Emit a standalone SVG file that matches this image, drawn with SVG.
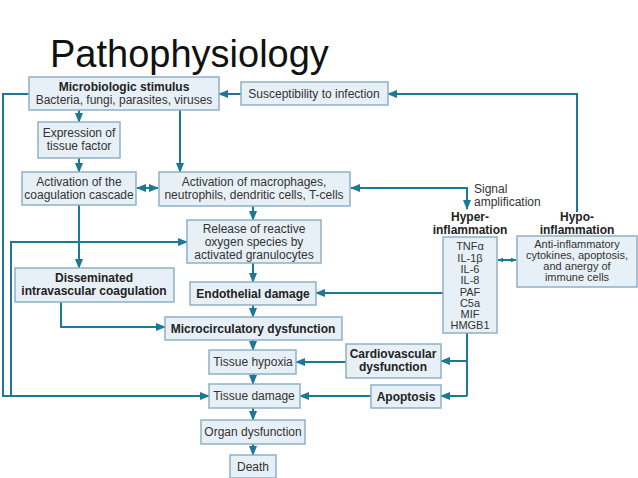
<svg xmlns="http://www.w3.org/2000/svg" width="638" height="478" viewBox="0 0 638 478">
<defs>
<marker id="a" viewBox="0 0 10 10" refX="9" refY="5" markerWidth="5" markerHeight="5" orient="auto-start-reverse"><path d="M0,1 L10,5 L0,9 z" fill="#1b7896"/></marker>
<marker id="s" viewBox="0 0 10 10" refX="9" refY="5" markerWidth="3" markerHeight="3" orient="auto-start-reverse"><path d="M0,1 L10,5 L0,9 z" fill="#1b7896"/></marker>
</defs>
<style>
.b{fill:#e7f0f6;stroke:#8fb1c6;stroke-width:1.5}
text{font-family:"Liberation Sans",Arial,sans-serif;font-size:12px;fill:#333;text-anchor:middle}
.bd{font-weight:bold;fill:#222}
.sm{font-size:11px}
.c{fill:none;stroke:#1b7896;stroke-width:2}
.c1{marker-end:url(#a)}
.c2{marker-start:url(#a);marker-end:url(#a)}
.c3{marker-start:url(#s);marker-end:url(#s)}
</style>
<rect width="638" height="478" fill="#fff"/>
<text x="50" y="67" style="font-size:38px;text-anchor:start;fill:#111">Pathophysiology</text>
<g id="connectors">
<path class="c c1" d="M29,94 H3 V396 H209"/>
<path class="c c1" d="M11,396 V242 H187"/>
<path class="c c1" d="M241,94 H219"/>
<path class="c c1" d="M577,212 V94 H388"/>
<path class="c c1" d="M79,110 V122"/>
<path class="c c1" d="M79,158 V172"/>
<path class="c c1" d="M180,110 V172"/>
<path class="c c2" d="M137,188 H158"/>
<path class="c c1" d="M79,205 V268"/>
<path class="c c1" d="M253,206 V220"/>
<path class="c c1" d="M253,263 V282"/>
<path class="c c1" d="M253,305 V317"/>
<path class="c c1" d="M253,340 V350"/>
<path class="c c1" d="M253,374 V384"/>
<path class="c c1" d="M253,408 V420"/>
<path class="c c1" d="M253,444 V455"/>
<path class="c c1" d="M61,302 V327 H165"/>
<path class="c c2" d="M351,188 H467 V209"/>
<path class="c c3" d="M498,260 H516"/>
<path class="c c1" d="M443,293 H316"/>
<path class="c" d="M467,333 V396"/>
<path class="c c1" d="M467,361 H441"/>
<path class="c c1" d="M467,396 H441"/>
<path class="c c1" d="M346,362 H296"/>
<path class="c c1" d="M371,396 H300"/>
</g>
<g id="microbio"><rect class="b" x="29" y="77" width="190" height="33"/><text class="bd" x="124" y="91">Microbiologic stimulus</text><text x="124" y="104">Bacteria, fungi, parasites, viruses</text></g>
<g id="suscept"><rect class="b" x="241" y="82" width="147" height="23"/><text x="314" y="98">Susceptibility to infection</text></g>
<g id="tissuefactor"><rect class="b" x="38" y="122" width="82" height="36"/><text x="79" y="137">Expression of</text><text x="79" y="150">tissue factor</text></g>
<g id="coag"><rect class="b" x="22" y="172" width="114" height="33"/><text x="79" y="186">Activation of the</text><text x="79" y="199">coagulation cascade</text></g>
<g id="macro"><rect class="b" x="159" y="172" width="191" height="34"/><text x="254" y="186">Activation of macrophages,</text><text x="254" y="199">neutrophils, dendritic cells, T-cells</text></g>
<g id="ros"><rect class="b" x="187" y="220" width="134" height="43"/><text x="254" y="233">Release of reactive</text><text x="254" y="246">oxygen species by</text><text x="254" y="259">activated granulocytes</text></g>
<g id="dic"><rect class="b" x="15" y="268" width="159" height="34"/><text class="bd" x="94" y="282">Disseminated</text><text class="bd" x="94" y="295">intravascular coagulation</text></g>
<g id="endo"><rect class="b" x="190" y="282" width="126" height="23"/><text class="bd" x="253" y="298">Endothelial damage</text></g>
<g id="micro"><rect class="b" x="165" y="317" width="177" height="23"/><text class="bd" x="253" y="333">Microcirculatory dysfunction</text></g>
<g id="hypoxia"><rect class="b" x="209" y="350" width="87" height="24"/><text x="253" y="366">Tissue hypoxia</text></g>
<g id="damage"><rect class="b" x="209" y="384" width="91" height="24"/><text x="254" y="400">Tissue damage</text></g>
<g id="organ"><rect class="b" x="201" y="420" width="104" height="24"/><text x="253" y="436">Organ dysfunction</text></g>
<g id="death"><rect class="b" x="230" y="455" width="46" height="23"/><text x="253" y="471">Death</text></g>
<g id="signal"><text x="474" y="193" style="text-anchor:start">Signal</text><text x="474" y="206" style="text-anchor:start">amplification</text></g>
<g id="hyper"><text class="bd" x="470" y="221">Hyper-</text><text class="bd" x="470" y="234">inflammation</text><rect class="b" x="443" y="237" width="54" height="96"/>
<text class="sm" x="470" y="250">TNFα</text><text class="sm" x="470" y="262">IL-1β</text><text class="sm" x="470" y="273">IL-6</text><text class="sm" x="470" y="284">IL-8</text><text class="sm" x="470" y="296">PAF</text><text class="sm" x="470" y="307">C5a</text><text class="sm" x="470" y="318">MIF</text><text class="sm" x="470" y="329">HMGB1</text></g>
<g id="hypo"><text class="bd" x="577" y="221">Hypo-</text><text class="bd" x="577" y="234">inflammation</text><rect class="b" x="517" y="236" width="120" height="51"/>
<text class="sm" x="577" y="248">Anti-inflammatory</text><text class="sm" x="577" y="259">cytokines, apoptosis,</text><text class="sm" x="577" y="270">and anergy of</text><text class="sm" x="577" y="281">immune cells</text></g>
<g id="cardio"><rect class="b" x="346" y="344" width="95" height="34"/><text class="bd" x="393" y="358">Cardiovascular</text><text class="bd" x="393" y="371">dysfunction</text></g>
<g id="apop"><rect class="b" x="371" y="385" width="70" height="23"/><text class="bd" x="406" y="401">Apoptosis</text></g>
</svg>
